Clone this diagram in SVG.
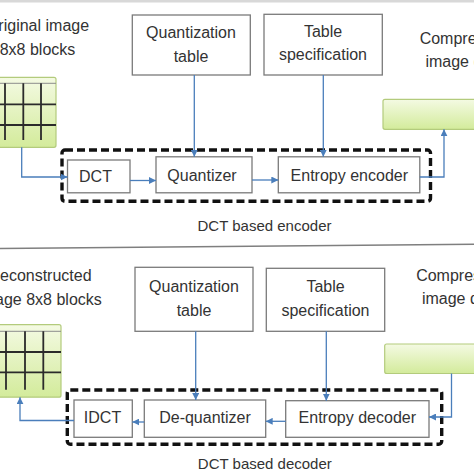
<svg xmlns="http://www.w3.org/2000/svg" width="474" height="474" viewBox="0 0 474 474">
<defs>
<linearGradient id="gr" x1="0" y1="0" x2="0" y2="1">
<stop offset="0" stop-color="#f4fae3"/>
<stop offset="1" stop-color="#d3eb9b"/>
</linearGradient>
<marker id="ah" viewBox="0 0 10 10" refX="10" refY="5" markerWidth="7" markerHeight="7" markerUnits="userSpaceOnUse" orient="auto">
<path d="M0,0 L10,5 L0,10 z" fill="#4a7ebb"/>
</marker>
<style>
text{font-family:"Liberation Sans",Arial,sans-serif;fill:#333;font-size:16px;text-anchor:middle}
.cap{font-size:15px}
.box{fill:#fff;stroke:#7a7a7a;stroke-width:1.3}
.green{fill:url(#gr);stroke:#b3cb7c;stroke-width:1.2}
.dash{fill:none;stroke:#111;stroke-width:3.4;stroke-dasharray:8 4}
.grid{stroke:#2b2b2b;stroke-width:1.8;fill:none}
.thin{stroke:#8c8c8c;stroke-width:1;fill:none}
.conn path{fill:none;stroke:#4a7ebb;stroke-width:1.3;marker-end:url(#ah)}
</style>
</defs>
<rect x="0" y="0" width="474" height="474" fill="#fff"/>
<rect x="0" y="0" width="474" height="2.5" fill="#d8d8d8"/>
<line x1="0" y1="248.5" x2="474" y2="244.3" stroke="#7f7f7f" stroke-width="1.5"/>

<!-- Encoder -->
<g id="enc-input">
<rect class="green" x="-10" y="77.3" width="66" height="70" rx="2"/>
<line class="thin" x1="-10" y1="83.3" x2="56" y2="83.3"/>
<path class="grid" d="M-10,104.3H56M-10,125H56M5,83.3V140M23.3,83.3V140M41,83.3V140"/>
<text x="37.5" y="31">Original image</text>
<text x="37.5" y="55">8x8 blocks</text>
</g>
<g id="enc-qtable">
<rect class="box" x="132.3" y="15" width="118" height="60"/>
<text x="191" y="37.8">Quantization</text>
<text x="191" y="61.5">table</text>
</g>
<g id="enc-tspec">
<rect class="box" x="264" y="14.3" width="118.3" height="60.7"/>
<text x="323" y="37">Table</text>
<text x="323" y="60">specification</text>
</g>
<g id="enc-output">
<rect class="green" x="383" y="99.3" width="100" height="30" rx="2"/>
<text x="465" y="44.3">Compressed</text>
<text x="465" y="66.7">image data</text>
</g>
<g id="encoder">
<rect class="dash" x="62" y="150" width="368.5" height="51.3" rx="3"/>
<text class="cap" x="264.5" y="230.8">DCT based encoder</text>
</g>
<g id="dct">
<rect class="box" x="67.5" y="160" width="62.5" height="32.8"/>
<text x="95.5" y="182">DCT</text>
</g>
<g id="quantizer">
<rect class="box" x="156" y="156.8" width="96" height="36"/>
<text x="202" y="180.5">Quantizer</text>
</g>
<g id="entropy-encoder">
<rect class="box" x="278.3" y="156.8" width="141.5" height="36"/>
<text x="349.3" y="180.5">Entropy encoder</text>
</g>

<!-- Decoder -->
<g id="dec-output">
<rect class="green" x="-10" y="324.7" width="71" height="72.5" rx="2"/>
<line class="thin" x1="-10" y1="331.3" x2="61" y2="331.3"/>
<path class="grid" d="M-10,352H61M-10,372.3H61M6,331.3V389.7M25,331.3V389.7M43.3,331.3V389.7"/>
<text x="40" y="281">Reconstructed</text>
<text x="40" y="304.7">image 8x8 blocks</text>
</g>
<g id="dec-qtable">
<rect class="box" x="135" y="267.3" width="118" height="64"/>
<text x="194" y="292.3">Quantization</text>
<text x="194" y="315.7">table</text>
</g>
<g id="dec-tspec">
<rect class="box" x="266.3" y="268.3" width="118.4" height="63"/>
<text x="325.5" y="292.3">Table</text>
<text x="325.5" y="315.7">specification</text>
</g>
<g id="dec-input">
<rect class="green" x="384.7" y="344" width="100" height="29.5" rx="2"/>
<text x="461.5" y="280.7">Compressed</text>
<text x="461.5" y="304">image data</text>
</g>
<g id="decoder">
<rect class="dash" x="67.3" y="390" width="374.4" height="54.2" rx="3"/>
<text class="cap" x="264.8" y="468.5">DCT based decoder</text>
</g>
<g id="idct">
<rect class="box" x="74" y="400" width="58.3" height="37.3"/>
<text x="102.5" y="423">IDCT</text>
</g>
<g id="dequantizer">
<rect class="box" x="144.3" y="400" width="121.4" height="37.3"/>
<text x="205" y="423">De-quantizer</text>
</g>
<g id="entropy-decoder">
<rect class="box" x="285.7" y="400.7" width="143.3" height="36.6"/>
<text x="357.3" y="423">Entropy decoder</text>
</g>

<g id="connectors" class="conn">
<path d="M21.7,147.3V177H67.5"/>
<path d="M130,180.5H156"/>
<path d="M252,180H278.3"/>
<path d="M194.3,75V156.8"/>
<path d="M323.3,75V156.8"/>
<path d="M419.8,177H444V129.3"/>
<path d="M451.5,373.5V417H429"/>
<path d="M285.7,421.3H265.7"/>
<path d="M144.3,422H132.3"/>
<path d="M74,420.5H20V397.2"/>
<path d="M195.7,331.3V400"/>
<path d="M326.3,331.3V400.7"/>
</g>
</svg>
